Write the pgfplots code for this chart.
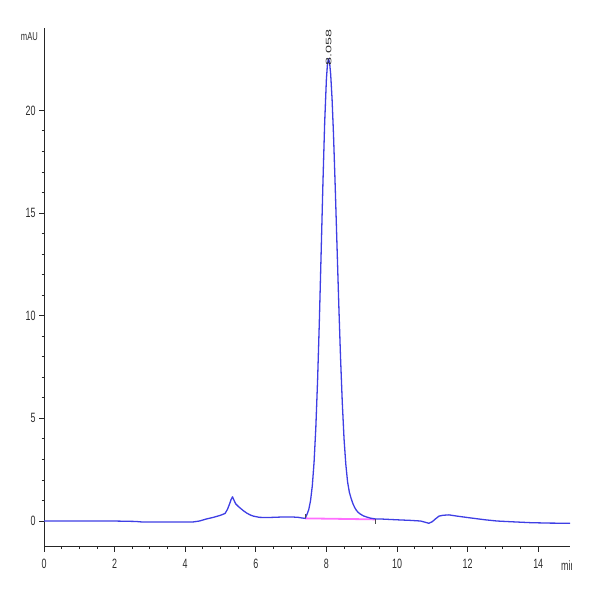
\documentclass[border=0pt]{standalone}
\usepackage{fontspec}
\setmainfont{Liberation Sans}
\newfontfamily\narrowfont[FakeStretch=0.66]{Liberation Sans}
\usepackage{pgfplots}
\pgfplotsset{compat=1.18}
\definecolor{trace}{RGB}{62,62,228}
\definecolor{basepink}{RGB}{255,110,255}
\definecolor{tickgray}{RGB}{45,45,45}
\pgfplotstableread{
x y
0.00 0.00
0.50 0.00
1.00 0.00
1.50 0.00
2.00 0.00
2.60 -0.02
2.80 -0.05
3.50 -0.05
4.20 -0.05
4.40 0.00
4.60 0.10
4.80 0.18
5.00 0.28
5.13 0.37
5.20 0.58
5.26 0.85
5.30 1.05
5.34 1.18
5.38 1.02
5.43 0.84
5.51 0.70
5.58 0.60
5.65 0.50
5.75 0.38
5.85 0.29
5.93 0.24
6.10 0.18
6.31 0.17
6.50 0.18
6.80 0.20
7.00 0.20
7.20 0.18
7.30 0.15
7.40 0.13
7.46 0.37
7.50 0.56
7.55 0.99
7.60 1.71
7.65 2.86
7.70 4.55
7.75 6.86
7.80 9.74
7.85 13.03
7.90 16.38
7.95 19.38
8.00 21.53
8.03 22.27
8.06 22.52
8.09 22.32
8.12 21.78
8.16 20.56
8.20 18.86
8.25 16.25
8.30 13.40
8.35 10.56
8.40 7.96
8.45 5.75
8.50 3.98
8.55 2.75
8.60 1.90
8.65 1.40
8.70 1.10
8.75 0.85
8.80 0.66
8.85 0.52
8.90 0.42
8.96 0.34
9.05 0.25
9.15 0.19
9.25 0.14
9.39 0.10
9.53 0.10
10.00 0.06
10.40 0.03
10.67 0.00
10.80 -0.06
10.90 -0.11
11.00 -0.03
11.10 0.12
11.19 0.24
11.30 0.28
11.47 0.30
11.70 0.24
12.00 0.17
12.18 0.13
12.50 0.06
12.84 0.00
13.30 -0.04
13.79 -0.08
14.30 -0.10
14.90 -0.11
}\chrom
\begin{document}
\begin{tikzpicture}
\path[use as bounding box] (0pt,0pt) rectangle (600pt,600pt);
\begin{axis}[
 at={(44pt,53.3pt)}, anchor=south west,
 scale only axis, width=526pt, height=518.4pt,
 xmin=0, xmax=14.9, ymin=-1.25, ymax=24,
 axis lines=left, axis line style={-, black!85, line width=0.9pt},
 xtick={0,2,...,14}, ytick={0,5,...,20},
 minor x tick num=3, minor y tick num=4,
 tick align=outside, major tick length=5pt, minor tick length=2.5pt,
 tick style={black!85, line width=0.9pt},
 /pgf/number format/assume math mode=true,
 tick label style={font=\narrowfont\fontsize{13.5}{13.5}\selectfont, text=tickgray},
 xticklabel style={yshift=-4pt},
 clip=false,
]
\addplot[basepink, line width=1.8pt] coordinates {(7.40,0.13) (9.39,0.08)};
\addplot[trace, line width=1.3pt, line join=round] table[x=x,y=y] {\chrom};
\addplot[black!70, line width=0.8pt] coordinates {(7.40,0.13) (7.40,0.33)};
\addplot[black!70, line width=0.8pt] coordinates {(9.39,0.08) (9.39,-0.12)};
\node[rotate=90, anchor=west, inner sep=0pt, text=tickgray, font=\fontsize{14.4}{14.4}\selectfont] at (axis cs:8.06,22.2) {\scalebox{1}[0.55]{8.058}};
\end{axis}
\node[anchor=east, inner sep=0pt, text=tickgray, font=\narrowfont\fontsize{11.5}{11.5}\selectfont] at (38pt,563pt) {mAU};
\begin{scope}
\clip (555pt,20pt) rectangle (571pt,50pt);
\node[anchor=west, inner sep=0pt, text=tickgray, font=\narrowfont\fontsize{13.5}{13.5}\selectfont] at (561pt,34pt) {min};
\end{scope}
\end{tikzpicture}
\end{document}
